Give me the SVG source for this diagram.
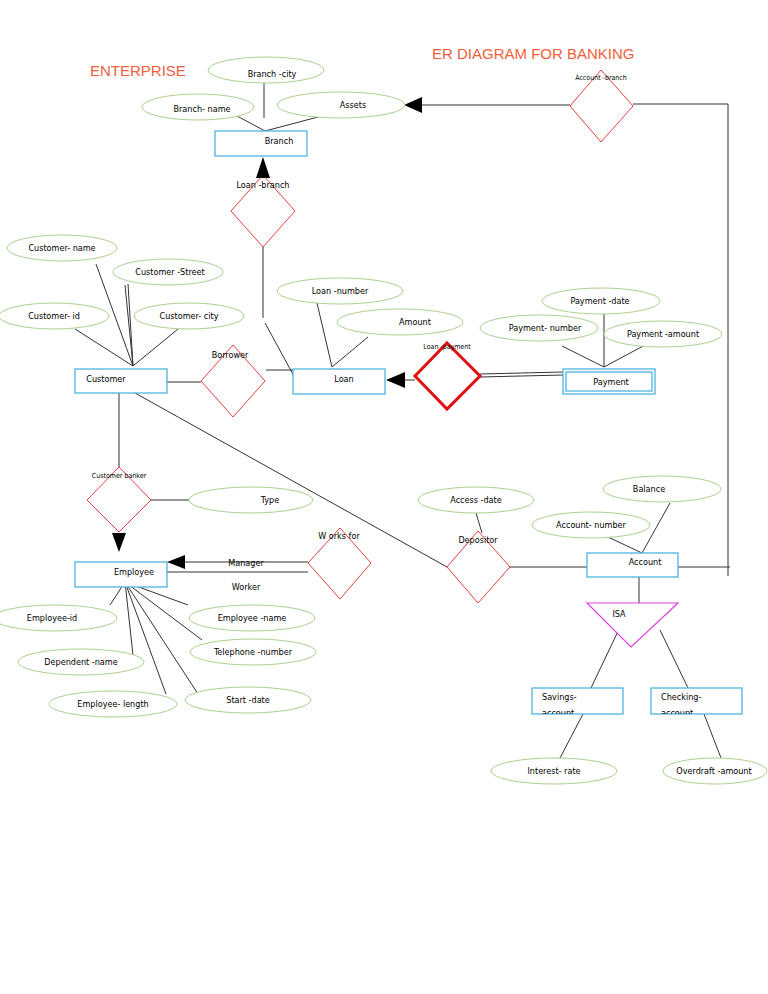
<svg xmlns="http://www.w3.org/2000/svg" width="768" height="994" viewBox="0 0 768 994">
<style>
text{font-family:"DejaVu Sans Condensed","DejaVu Sans",sans-serif;font-size:9px;fill:#000;text-anchor:middle}
.t{font-family:"Liberation Sans",Arial,sans-serif;font-size:15px;fill:#f0603c;text-anchor:start}
.s{font-size:7px}
.a{fill:#fff;stroke:#a9d18e;stroke-width:1}
.e{fill:#fff;stroke:#4fb3e0;stroke-width:1.3}
.r{fill:#fff;stroke:#e84040;stroke-width:1}
.c line,.c polyline{stroke:#333;stroke-width:1;fill:none}
</style>
<defs><clipPath id="sv"><rect x="532" y="688" width="91" height="26"/></clipPath><clipPath id="ck"><rect x="651" y="688" width="91" height="26"/></clipPath></defs>
<rect width="768" height="994" fill="#fff"/>
<text class="t" x="432" y="59">ER DIAGRAM FOR BANKING</text>
<text class="t" x="90" y="76">ENTERPRISE</text>
<g class="c" id="connectors">
<line x1="264" y1="83" x2="264" y2="118"/><line x1="237" y1="116" x2="265" y2="131"/><line x1="318" y1="117" x2="265" y2="131"/>
<line x1="263" y1="247" x2="263" y2="318"/><line x1="265" y1="323" x2="295" y2="378"/>
<line x1="422" y1="105" x2="570" y2="105"/><polygon points="404,105 422,97 422,113" fill="#000"/>
<polyline points="633,104 728,104 728,576"/>
<line x1="96" y1="264" x2="133" y2="366"/><line x1="125" y1="285" x2="133" y2="366"/><line x1="128" y1="284" x2="133" y2="366"/><line x1="75" y1="329" x2="133" y2="366"/><line x1="178" y1="329" x2="133" y2="366"/>
<line x1="167" y1="382" x2="201" y2="382"/><line x1="266" y1="370" x2="295" y2="370"/>
<line x1="317" y1="303" x2="332" y2="367"/><line x1="368" y1="337" x2="332" y2="367"/>
<line x1="404" y1="380" x2="415" y2="380"/><polygon points="386,380 405,372 405,388" fill="#000"/>
<line x1="480" y1="374" x2="563" y2="372" stroke="#777"/><line x1="480" y1="377" x2="563" y2="375" stroke="#777"/>
<line x1="604" y1="313" x2="604" y2="367"/><line x1="562" y1="346" x2="604" y2="367"/><line x1="645" y1="345" x2="604" y2="367"/>
<line x1="119" y1="393" x2="119" y2="468"/><line x1="151" y1="500" x2="189" y2="500"/><polygon points="119,552 112,533 126,533" fill="#000"/>
<line x1="185" y1="562" x2="308" y2="562"/><polygon points="167,562 185,555 185,569" fill="#000"/><line x1="167" y1="572" x2="308" y2="572" stroke="#666"/>
<line x1="125" y1="582" x2="110" y2="605"/><line x1="125" y1="582" x2="133" y2="655"/><line x1="125" y1="582" x2="166" y2="694"/><line x1="125" y1="582" x2="188" y2="605"/><line x1="125" y1="582" x2="202" y2="640"/><line x1="125" y1="582" x2="198" y2="694"/>
<line x1="135" y1="393" x2="447" y2="567"/><line x1="476" y1="513" x2="482" y2="533"/><line x1="510" y1="567" x2="587" y2="567" stroke="#888"/>
<line x1="678" y1="567" x2="730" y2="567" stroke="#888"/><line x1="670" y1="503" x2="642" y2="553"/><line x1="608" y1="537" x2="642" y2="553"/>
<line x1="639" y1="577" x2="639" y2="603" stroke="#888"/>
<line x1="621" y1="625" x2="591" y2="688"/><line x1="660" y1="630" x2="688" y2="688"/>
<line x1="583" y1="714" x2="560" y2="758"/><line x1="704" y1="714" x2="721" y2="758"/>
</g>
<g id="branch-city"><ellipse class="a" cx="266" cy="70" rx="58" ry="13"/><text x="272" y="77">Branch -city</text></g>
<g id="branch-name"><ellipse class="a" cx="198" cy="107" rx="56" ry="13"/><text x="202" y="112">Branch- name</text></g>
<g id="assets"><ellipse class="a" cx="341" cy="105" rx="64" ry="13"/><text x="353" y="108">Assets</text></g>
<g id="branch"><rect class="e" x="215" y="131" width="92" height="25"/><text x="279" y="144">Branch</text></g>
<g id="loan-branch"><polygon class="r" points="263,175 295,211 263,247 231,211"/><text x="263" y="188">Loan -branch</text></g>
<polygon points="263,157 256,178 270,178" fill="#000"/>
<g id="account-branch"><polygon class="r" points="601,70 633,106 601,142 570,106"/><text class="s" x="601" y="80">Account -branch</text></g>
<g id="customer-name"><ellipse class="a" cx="62" cy="248" rx="55" ry="13"/><text x="62" y="251">Customer- name</text></g>
<g id="customer-street"><ellipse class="a" cx="168" cy="272" rx="55" ry="13"/><text x="170" y="275">Customer -Street</text></g>
<g id="customer-id"><ellipse class="a" cx="54" cy="316" rx="55" ry="13"/><text x="54" y="319">Customer- id</text></g>
<g id="customer-city"><ellipse class="a" cx="189" cy="316" rx="55" ry="13"/><text x="189" y="319">Customer- city</text></g>
<g id="customer"><rect class="e" x="75" y="369" width="92" height="24"/><text x="106" y="382">Customer</text></g>
<g id="borrower"><polygon class="r" points="233,345 265,381 233,417 201,381"/><text x="230" y="358">Borrower</text></g>
<g id="loan-number"><ellipse class="a" cx="340" cy="291" rx="63" ry="13"/><text x="340" y="294">Loan -number</text></g>
<g id="amount"><ellipse class="a" cx="400" cy="322" rx="63" ry="13"/><text x="415" y="325">Amount</text></g>
<g id="loan"><rect class="e" x="293" y="369" width="92" height="25"/><text x="344" y="382">Loan</text></g>
<g id="loan-payment"><polygon points="447,343 480,376 447,409 415,376" fill="#fff" stroke="#e01010" stroke-width="3"/><text class="s" x="447" y="349">Loan -payment</text></g>
<g id="payment-date"><ellipse class="a" cx="601" cy="301" rx="59" ry="13"/><text x="600" y="304">Payment -date</text></g>
<g id="payment-number"><ellipse class="a" cx="539" cy="328" rx="59" ry="13"/><text x="545" y="331">Payment- number</text></g>
<g id="payment-amount"><ellipse class="a" cx="663" cy="334" rx="59" ry="13"/><text x="663" y="337">Payment -amount</text></g>
<g id="payment"><rect class="e" x="563" y="369" width="92" height="25"/><rect class="e" x="566" y="372" width="86" height="19"/><text x="611" y="385">Payment</text></g>
<g id="customer-banker"><polygon class="r" points="119,467 151,500 119,532 87,500"/><text class="s" x="119" y="478">Customer banker</text></g>
<g id="type"><ellipse class="a" cx="251" cy="500" rx="62" ry="13"/><text x="270" y="503">Type</text></g>
<g id="employee"><rect class="e" x="75" y="562" width="92" height="25"/><text x="134" y="575">Employee</text></g>
<g id="works-for"><polygon class="r" points="340,528 371,563 340,599 308,563"/><text x="339" y="539">W orks for</text></g>
<text x="246" y="566">Manager</text><text x="246" y="590">Worker</text>
<g id="employee-id"><ellipse class="a" cx="55" cy="618" rx="62" ry="13"/><text x="52" y="621">Employee-id</text></g>
<g id="dependent-name"><ellipse class="a" cx="81" cy="662" rx="63" ry="13"/><text x="81" y="665">Dependent -name</text></g>
<g id="employee-length"><ellipse class="a" cx="113" cy="704" rx="64" ry="13"/><text x="113" y="707">Employee- length</text></g>
<g id="employee-name"><ellipse class="a" cx="252" cy="618" rx="63" ry="13"/><text x="252" y="621">Employee -name</text></g>
<g id="telephone-number"><ellipse class="a" cx="253" cy="652" rx="63" ry="13"/><text x="253" y="655">Telephone -number</text></g>
<g id="start-date"><ellipse class="a" cx="248" cy="700" rx="63" ry="13"/><text x="248" y="703">Start -date</text></g>
<g id="access-date"><ellipse class="a" cx="476" cy="500" rx="58" ry="13"/><text x="476" y="503">Access -date</text></g>
<g id="depositor"><polygon class="r" points="478,531 510,567 478,603 447,567"/><text x="478" y="543">Depositor</text></g>
<g id="balance"><ellipse class="a" cx="662" cy="489" rx="59" ry="13"/><text x="649" y="492">Balance</text></g>
<g id="account-number"><ellipse class="a" cx="591" cy="525" rx="59" ry="13"/><text x="591" y="528">Account- number</text></g>
<g id="account"><rect class="e" x="587" y="553" width="91" height="24"/><text x="645" y="565">Account</text></g>
<g id="isa"><polygon points="587,603 678,603 631,647" fill="#fff" stroke="#e040e0" stroke-width="1.2"/><text x="619" y="617">ISA</text></g>
<g id="savings-account"><rect class="e" x="532" y="688" width="91" height="26"/><g clip-path="url(#sv)"><text x="542" y="700" style="text-anchor:start">Savings-</text><text x="542" y="716" style="text-anchor:start">account</text></g></g>
<g id="checking-account"><rect class="e" x="651" y="688" width="91" height="26"/><g clip-path="url(#ck)"><text x="661" y="700" style="text-anchor:start">Checking-</text><text x="661" y="716" style="text-anchor:start">account</text></g></g>
<g id="interest-rate"><ellipse class="a" cx="554" cy="771" rx="63" ry="13"/><text x="554" y="774">Interest- rate</text></g>
<g id="overdraft-amount"><ellipse class="a" cx="715" cy="771" rx="52" ry="13"/><text x="714" y="774">Overdraft -amount</text></g>
</svg>
